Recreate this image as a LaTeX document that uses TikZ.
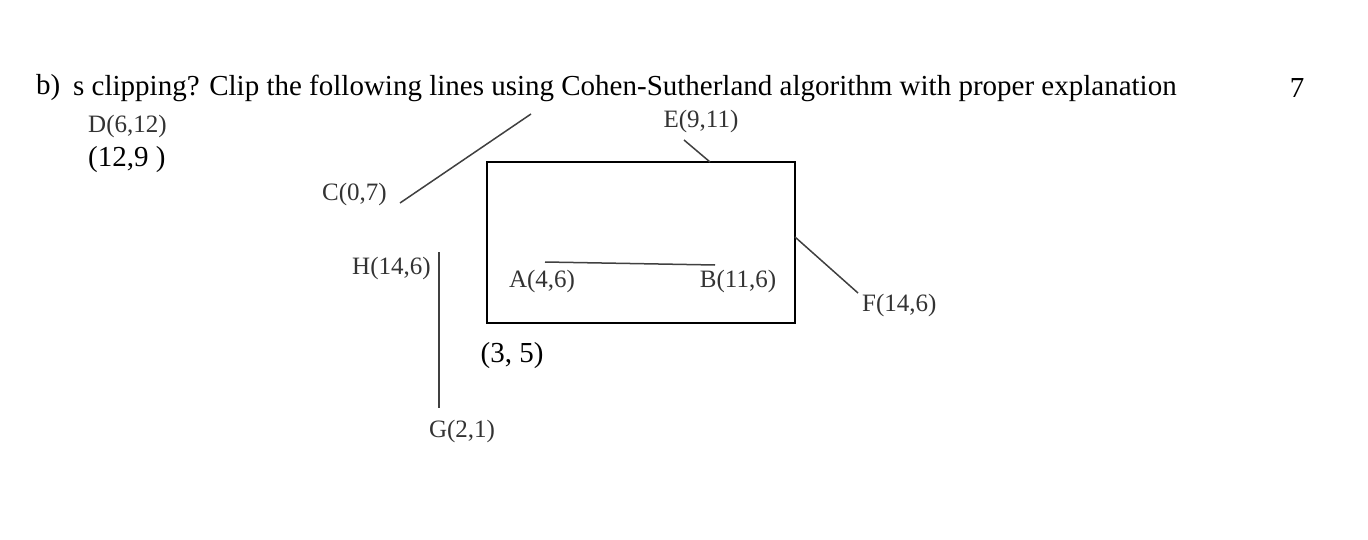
\documentclass[tikz,border=0pt]{standalone}
\usepackage{fontspec}
\setmainfont{Liberation Serif}
\begin{document}
\begin{tikzpicture}[x=1pt,y=-1pt,
  lbl/.style={inner sep=0pt,text=black!80,font=\fontsize{25}{27}\selectfont},
  big/.style={inner sep=0pt,font=\fontsize{29}{32}\selectfont},
  ln/.style={line width=1.5pt,black!75}]
\useasboundingbox[fill=white] (0,0) rectangle (1368,540);
\node[big,anchor=west] (hb) at (36,88) {b)};
\node[big,anchor=west] (ht) at (73,88) {s clipping? Clip the following lines using Cohen-Sutherland algorithm with proper explanation};
\node[big] (h7) at (1297,88) {7};
\node[lbl,anchor=west] (d) at (88,126) {D(6,12)};
\node[big,anchor=west] (p129) at (88,160) {(12,9 )};
\node[lbl,anchor=west] (c) at (322,194) {C(0,7)};
\node[lbl] (e) at (701,121) {E(9,11)};
\node[lbl] (a) at (542,281) {A(4,6)};
\node[lbl] (b) at (738,281) {B(11,6)};
\node[lbl,anchor=west] (f) at (862,305) {F(14,6)};
\node[lbl,anchor=west] (h) at (352,268) {H(14,6)};
\node[big] (p35) at (512,356) {(3, 5)};
\node[lbl] (g) at (462,431) {G(2,1)};
\draw[line width=1.5pt] (487,162) rectangle (795,323);
\coordinate (c1) at (400,203); \coordinate (d1) at (531,114);
\coordinate (e1) at (684,140); \coordinate (e2) at (710,162);
\coordinate (a1) at (545,262); \coordinate (b1) at (715,265);
\coordinate (f1) at (795,237); \coordinate (f2) at (858,293);
\coordinate (h1) at (439,252); \coordinate (g1) at (439,408);
\draw[ln] (c1) -- (d1);
\draw[ln] (e1) -- (e2);
\draw[ln] (a1) -- (b1);
\draw[ln] (f1) -- (f2);
\draw[ln] (h1) -- (g1);
\end{tikzpicture}
\end{document}
